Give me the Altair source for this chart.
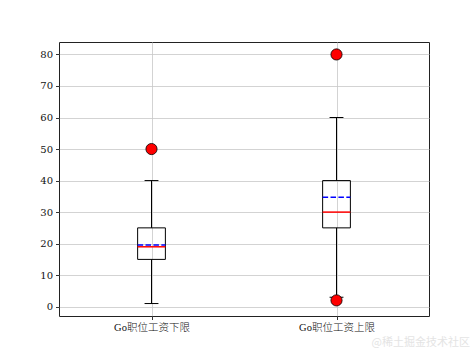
import altair as alt
import pandas as pd

categories = ["Go职位工资下限", "Go职位工资上限"]
positions = [1, 2]
whisker_low = [1, 3]
q1 = [15, 25]
median = [19, 30]
mean = [19.6, 34.7]
q3 = [25, 40]
whisker_high = [40, 60]

outlier_pos = [1, 2, 2]
outlier_val = [50, 80, 2]

y_ticks = [0, 10, 20, 30, 40, 50, 60, 70, 80]

box = pd.DataFrame({
    "cat": categories, "pos": positions, "lo": whisker_low, "q1": q1,
    "med": median, "mean": mean, "q3": q3, "hi": whisker_high,
})
outl = pd.DataFrame({"pos": outlier_pos, "val": outlier_val})

label_expr = " : ".join(
    [f"datum.value == {p} ? '{c}'" for p, c in zip(positions, categories)]
) + " : ''"

XFONT = "Liberation Serif, Noto Sans CJK SC"
YFONT = "DejaVu Serif"
xs = alt.Scale(domain=[0.5, 2.5], nice=False, zero=False)
ys = alt.Scale(domain=[-2.95, 83.95], nice=False, zero=False)

x_axis = alt.Axis(values=positions, labelExpr=label_expr, grid=True, title=None,
                  labelFont=XFONT, labelFontSize=10.5, labelFontWeight=300,
                  labelColor="#111", tickColor="#000", tickSize=3.5, tickWidth=0.8,
                  labelPadding=3, domain=False, gridColor="#c8c8c8", gridWidth=0.8,
                  labelFlush=False, labelOverlap=False)
y_axis = alt.Axis(values=y_ticks, grid=True, title=None, labelFont=YFONT,
                  labelFontSize=10, labelColor="#111", tickColor="#000",
                  tickSize=3.5, tickWidth=0.8, labelPadding=3, domain=False,
                  gridColor="#c8c8c8", gridWidth=0.8, labelOverlap=False)

def X(f):
    return alt.X(f, scale=xs, axis=x_axis)

def Y(f):
    return alt.Y(f, scale=ys, axis=y_axis)

base = alt.Chart(box).transform_calculate(
    xl="datum.pos - 0.075", xr="datum.pos + 0.075",
    cl="datum.pos - 0.0375", cr="datum.pos + 0.0375",
)

whisk_low = base.mark_rule(color="#000", strokeWidth=1).encode(
    x=X("pos:Q"), y=Y("lo:Q"), y2="q1:Q")
whisk_high = base.mark_rule(color="#000", strokeWidth=1).encode(
    x=X("pos:Q"), y=Y("q3:Q"), y2="hi:Q")

rect = base.mark_rect(fill=None, fillOpacity=0, stroke="#000", strokeWidth=1).encode(
    x=X("xl:Q"), x2="xr:Q", y=Y("q1:Q"), y2="q3:Q")

cap_low = base.mark_rule(color="#000", strokeWidth=1).encode(
    x=X("cl:Q"), x2="cr:Q", y=Y("lo:Q"))
cap_high = base.mark_rule(color="#000", strokeWidth=1).encode(
    x=X("cl:Q"), x2="cr:Q", y=Y("hi:Q"))

med = base.mark_rule(color="#ff0000", strokeWidth=1.5).encode(
    x=X("xl:Q"), x2="xr:Q", y=Y("med:Q"))
mn = base.mark_rule(color="#0000ff", strokeWidth=1.5, strokeDash=[5.5, 2.4]).encode(
    x=X("xl:Q"), x2="xr:Q", y=Y("mean:Q"))

pts = alt.Chart(outl).mark_point(filled=True, shape="circle", size=125,
                                 fill="#ff0000", stroke="#000", strokeWidth=0.8,
                                 opacity=1).encode(
    x=X("pos:Q"), y=Y("val:Q"))

watermark = alt.Chart(pd.DataFrame({"t": ["@稀土掘金技术社区"]})).mark_text(
    align="right", baseline="middle", font="Noto Sans CJK SC", fontSize=11,
    color="#e4e4e4").encode(text="t:N", x=alt.value(411), y=alt.value(301))

chart = alt.layer(whisk_low, whisk_high, rect, cap_low, cap_high, med, mn,
                  pts, watermark).properties(
    width=370, height=274,
    autosize=alt.AutoSizeParams(type="none"),
    padding={"left": 59, "top": 42, "right": 45, "bottom": 39},
).configure_view(stroke="#222", strokeWidth=1)

chart.save("out.html", embed_options={"renderer": "svg", "actions": False})
